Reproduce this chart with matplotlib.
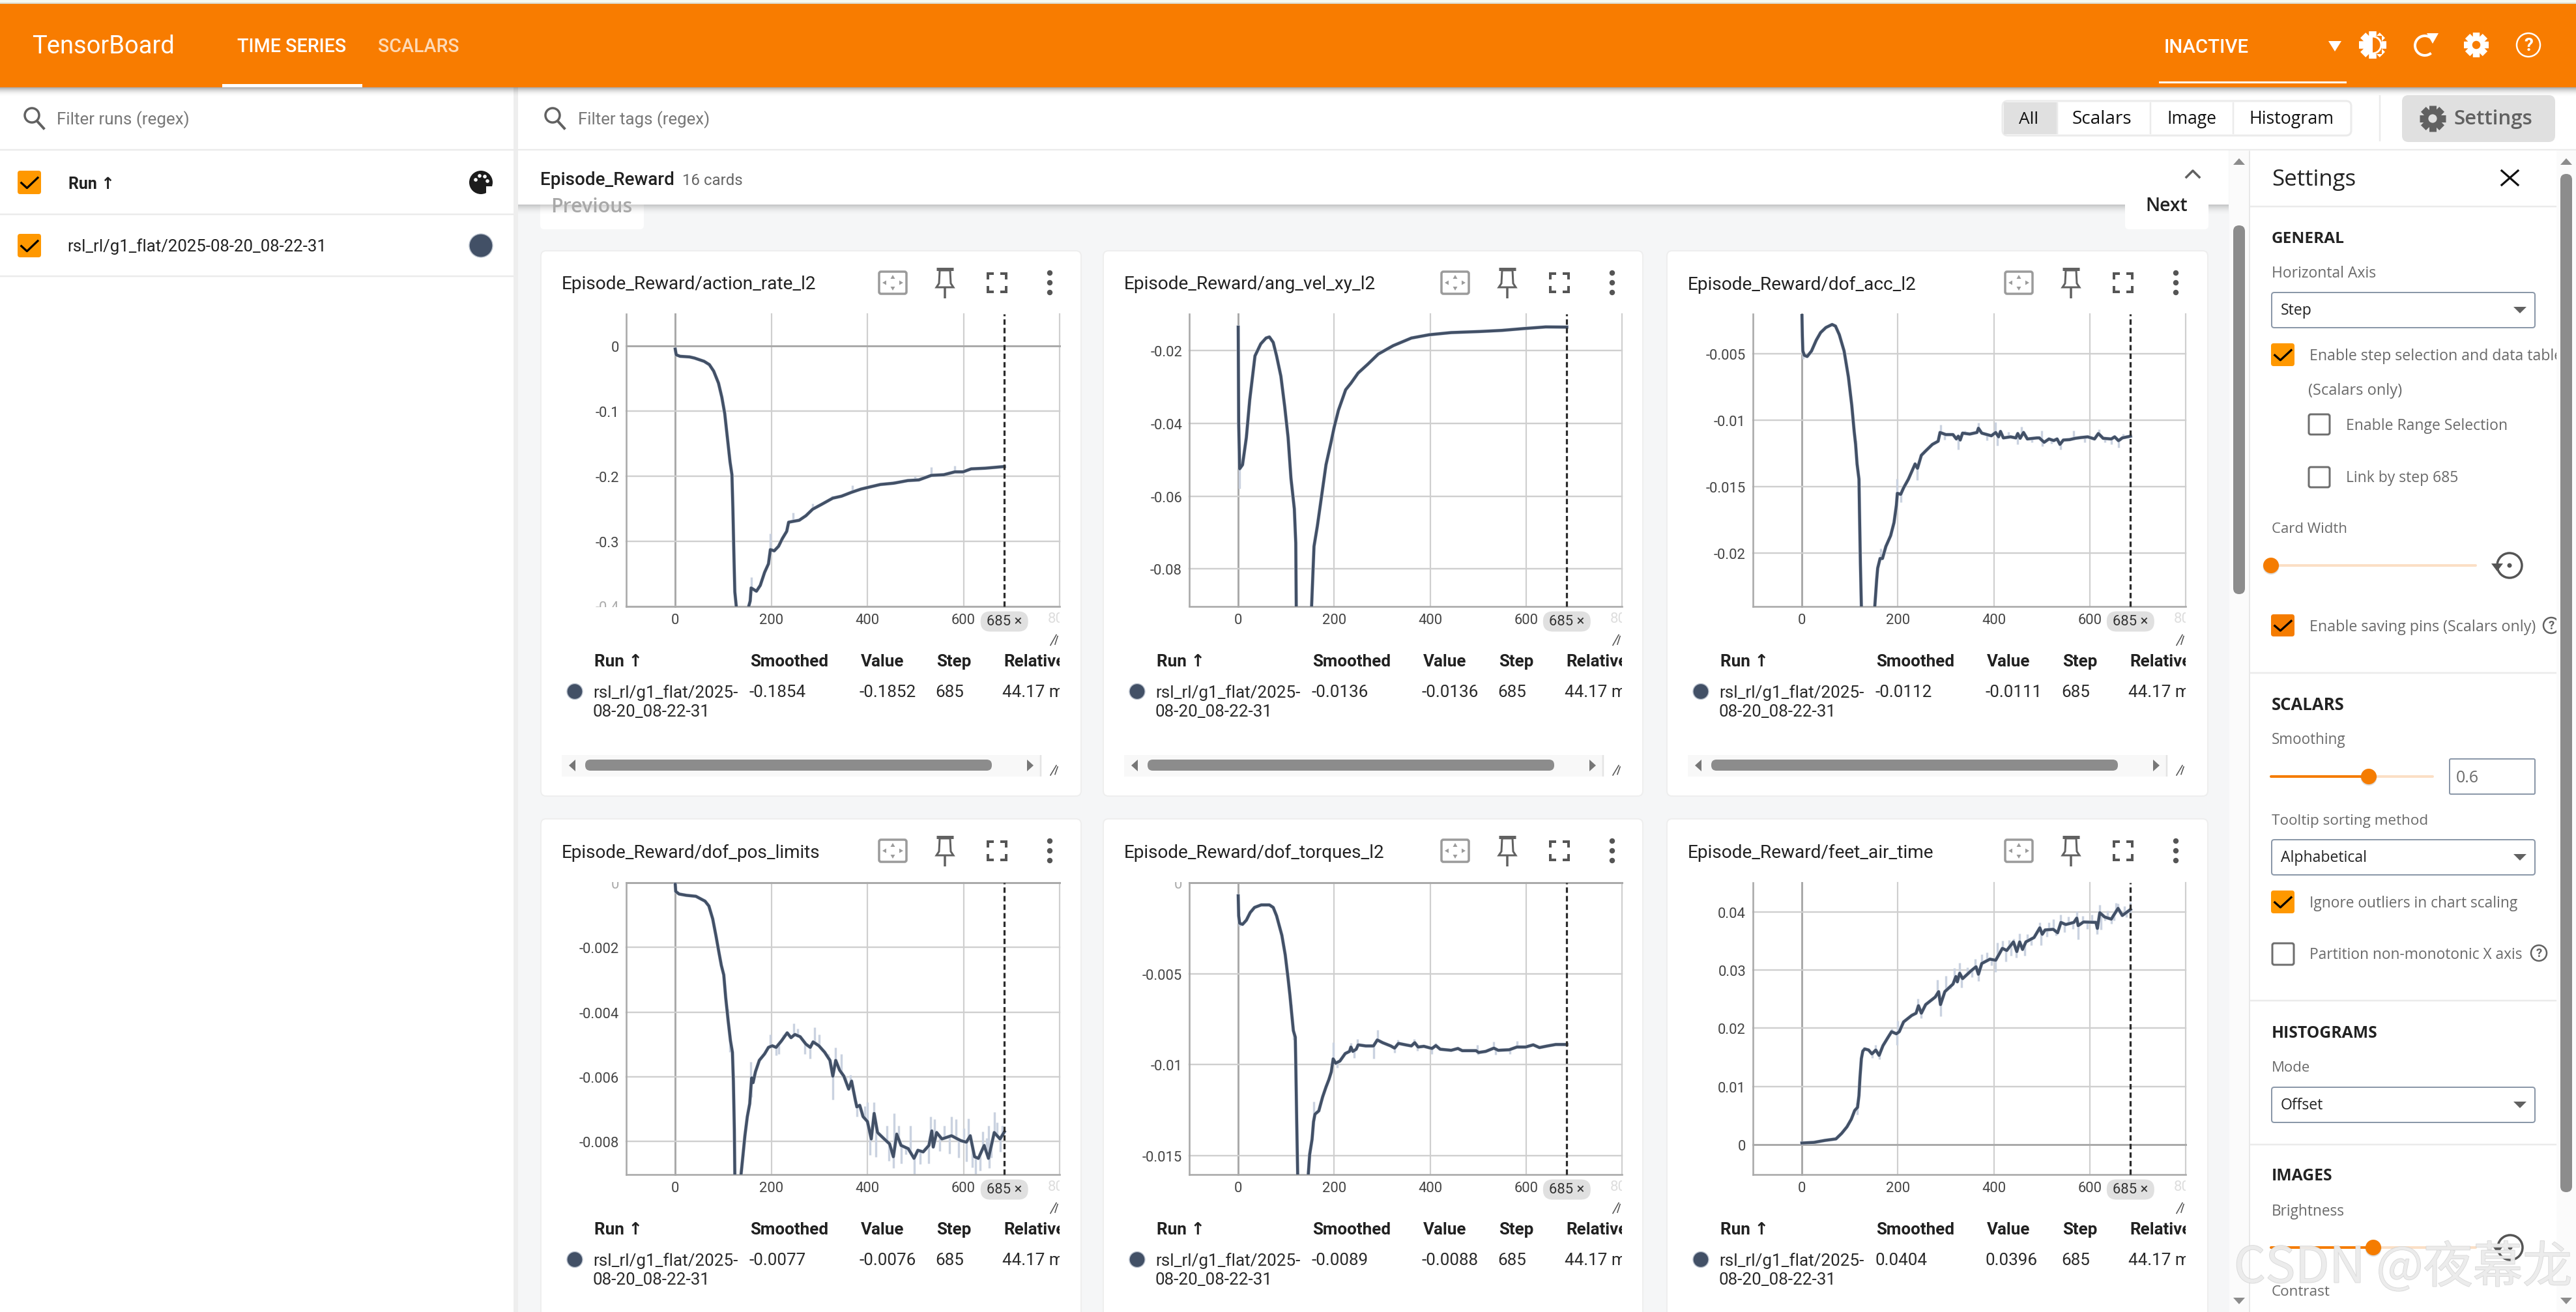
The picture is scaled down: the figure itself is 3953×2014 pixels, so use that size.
import numpy as np
import matplotlib
matplotlib.use("Agg")
import matplotlib.pyplot as plt
from matplotlib.patches import Rectangle, Circle, FancyBboxPatch, Polygon, Arc, Ellipse
from matplotlib.transforms import Bbox, TransformedBbox
import matplotlib.patheffects as pe

# ---------------- data ----------------
action_rate_steps = [0,2,10,30,40,60,71,80,90,97,103,107,110,114,118,120,122,124,127,130,140,150,153,156,158,169,177,186,194,198,206,215,223,232,236,243,258,272,286,306,323,328,346,367,387,404,427,455,484,507,533,559,582,599,616,645,685]
action_rate_smooth = [-.005,-.0137,-.016,-.017,-.0187,-.0237,-.0288,-.0388,-.0572,-.079,-.104,-.131,-.151,-.178,-.198,-.251,-.318,-.378,-.40,-.45,-.50,-.43,-.40,-.392,-.372,-.377,-.368,-.348,-.335,-.313,-.315,-.308,-.296,-.285,-.271,-.27,-.268,-.261,-.251,-.243,-.236,-.234,-.231,-.225,-.22,-.217,-.213,-.211,-.207,-.206,-.199,-.198,-.1936,-.1936,-.189,-.188,-.1854]
action_rate_raw_steps = [108,158,198,236,245,286,326,368,407,455,499,533,581,616,685]
action_rate_raw = [-.142,-.355,-.288,-.268,-.256,-.242,-.230,-.214,-.213,-.207,-.200,-.186,-.184,-.187,-.1852]

ang_vel_steps = [0,1,3,9,17,24,35,47,58,65,73,80,89,97,104,110,117,120,121,125,140,153,158,165,174,183,194,200,209,224,235,250,270,292,323,361,398,444,505,550,595,641,685]
ang_vel_smooth = [-.0136,-.04,-.0525,-.0514,-.0439,-.0336,-.0215,-.0182,-.0166,-.0163,-.0178,-.0215,-.0271,-.0355,-.0439,-.0551,-.0635,-.0729,-.0902,-.11,-.13,-.0902,-.0738,-.0682,-.0598,-.0514,-.0449,-.0411,-.0364,-.0308,-.029,-.0262,-.0238,-.021,-.0187,-.0166,-.0157,-.0151,-.0148,-.0145,-.014,-.01355,-.0136]
ang_vel_raw_steps = [2,110,158,198,235,300,420,530,600,660,685]
ang_vel_raw = [-.058,-.0565,-.0725,-.0425,-.0285,-.0198,-.0152,-.0145,-.0137,-.0132,-.0136]

dof_acc_steps = [0,1,2,5,11,20,30,39,50,63,70,78,88,97,104,109,112,115,119,120,122,124,128,140,152,156,158,163,168,175,185,192,197,199,206,212,222,232,236,241,249,258,272,284,288,300,315,322,326,330,335,350,365,368,375,395,404,410,414,420,435,446,450,455,462,470,490,495,505,515,525,532,538,545,558,570,582,596,610,618,628,645,652,660,668,685]
dof_acc_smooth = [-.0018,-.00364,-.00479,-.00511,-.0052,-.00479,-.00397,-.0034,-.00302,-.00279,-.00291,-.00356,-.00479,-.00675,-.00888,-.01084,-.01182,-.01329,-.01444,-.01673,-.02082,-.024,-.03,-.032,-.024,-.02196,-.02114,-.02041,-.02041,-.01951,-.01869,-.01771,-.0164,-.0155,-.01558,-.01509,-.01444,-.01362,-.01329,-.01362,-.01264,-.01231,-.01182,-.01158,-.01092,-.01108,-.01108,-.01141,-.0112,-.01149,-.01097,-.01104,-.01092,-.0106,-.01097,-.01117,-.01092,-.01125,-.01084,-.01133,-.01125,-.01133,-.011,-.01136,-.01092,-.01141,-.01133,-.01133,-.01166,-.01141,-.01153,-.01141,-.01182,-.01149,-.01146,-.01136,-.0113,-.01125,-.01141,-.011,-.01136,-.01141,-.01125,-.01154,-.01133,-.01120]
dof_acc_raw_steps = [2,112,118,164,198,207,240,289,298,326,340,368,385,403,407,430,450,458,480,500,501,520,539,567,590,619,632,645,660,670,685]
dof_acc_raw = [-.0054,-.0115,-.0148,-.01967,-.01439,-.0162,-.01452,-.01032,-.01145,-.01218,-.01080,-.01018,-.01150,-.01014,-.0119,-.01090,-.01179,-.01051,-.01165,-.01076,-.01195,-.01175,-.01218,-.01076,-.01165,-.01068,-.01165,-.01179,-.01207,-.01105,-.0111]

dof_pos_steps = [0,1,8,23,43,62,70,78,85,91,96,101,105,110,115,119,121,123,124,128,132,137,141,145,150,155,159,162,167,175,186,194,202,210,221,233,241,249,260,272,281,287,299,311,322,328,334,342,351,361,367,375,378,384,391,400,408,414,421,435,446,454,461,470,485,497,505,516,528,534,537,544,555,575,594,606,614,623,631,643,652,664,676,685]
dof_pos_smooth = [-.00005,-.00027,-.00035,-.00039,-.00042,-.00057,-.00072,-.00112,-.00166,-.00216,-.00256,-.00285,-.00355,-.00425,-.00489,-.00524,-.00613,-.00762,-.00901,-.012,-.012,-.00901,-.00842,-.00782,-.00723,-.00683,-.00603,-.00618,-.00584,-.00549,-.00529,-.00509,-.00504,-.00509,-.00489,-.00464,-.00479,-.00469,-.00476,-.00499,-.00509,-.00492,-.00504,-.00524,-.00549,-.00598,-.00549,-.00579,-.00598,-.00638,-.00613,-.00673,-.00693,-.00688,-.00723,-.00738,-.00792,-.00713,-.00772,-.00792,-.00807,-.00847,-.00777,-.00812,-.00822,-.00852,-.00827,-.00832,-.00812,-.00767,-.00817,-.00772,-.00792,-.00782,-.00797,-.00802,-.00782,-.00847,-.00852,-.00812,-.00852,-.00772,-.00792,-.0077]
dof_pos_raw_steps = [110,114,157,159,198,210,215,225,247,255,270,281,290,300,318,328,334,345,355,365,378,388,395,400,405,413,418,440,445,454,456,465,470,480,490,497,510,520,527,532,540,550,560,571,575,585,590,600,606,610,618,625,635,640,648,652,653,658,664,670,677,680,685]
dof_pos_raw = [-.0039,-.00524,-.00554,-.00663,-.00469,-.00534,-.0053,-.0047,-.00434,-.0045,-.0053,-.00544,-.00446,-.0047,-.0053,-.0067,-.00509,-.0053,-.0060,-.00593,-.00723,-.0072,-.0069,-.00678,-.00842,-.00678,-.00847,-.0075,-.0086,-.00882,-.00713,-.0075,-.00867,-.0084,-.0075,-.00901,-.0087,-.0082,-.00867,-.00723,-.0073,-.0083,-.0075,-.00837,-.00723,-.0073,-.0085,-.0076,-.00862,-.00728,-.0088,-.00901,-.0089,-.0077,-.0079,-.00752,-.00882,-.0085,-.00708,-.0074,-.00832,-.0075,-.0076]

dof_torq_steps = [0,1,3,9,17,25,34,48,65,73,80,91,98,104,108,111,115,119,120,122,124,128,135,146,149,154,157,160,168,176,183,189,194,198,203,212,223,232,235,239,246,250,266,282,290,301,318,326,334,349,361,368,375,387,404,412,421,444,458,467,496,501,516,533,542,565,581,599,615,628,645,662,685]
dof_torq_smooth = [-.00072,-.00182,-.00223,-.00229,-.00206,-.00164,-.00136,-.00122,-.00122,-.00136,-.00182,-.00289,-.00396,-.00527,-.00623,-.00706,-.00813,-.00849,-.00992,-.01314,-.01606,-.02,-.022,-.01606,-.01493,-.0141,-.01314,-.01272,-.01254,-.01177,-.01123,-.01082,-.0104,-.00968,-.00992,-.0098,-.00939,-.00927,-.00903,-.00927,-.00915,-.00891,-.00897,-.00897,-.00864,-.00879,-.00897,-.00909,-.00883,-.00891,-.00897,-.00879,-.00903,-.00899,-.00911,-.00895,-.00915,-.00921,-.00911,-.00923,-.00923,-.00933,-.00927,-.00909,-.00921,-.00918,-.00903,-.00903,-.00891,-.00906,-.00897,-.00889,-.00889]
dof_torq_raw_steps = [3,111,112,115,158,198,207,235,242,249,282,290,326,333,367,374,403,412,499,500,533,536,566,581,616,685]
dof_torq_raw = [-.0024,-.0067,-.00766,-.00861,-.01204,-.00877,-.01016,-.00879,-.00962,-.00859,-.00968,-.00808,-.00933,-.00864,-.00859,-.00923,-.00941,-.00879,-.00891,-.00945,-.00873,-.00945,-.00943,-.00871,-.00883,-.0088]

air_steps = [0,25,48,71,83,94,103,110,116,119,121,124,127,131,139,146,154,161,169,180,187,197,203,212,229,238,243,249,258,278,285,289,298,315,321,324,329,335,352,363,368,375,392,404,418,427,441,448,454,460,467,484,496,501,507,524,533,540,550,567,573,576,587,613,616,621,631,645,659,668,685]
air_smooth = [.00026,.00037,.00071,.00097,.00193,.00305,.00435,.00584,.00639,.00844,.01141,.01476,.01606,.01643,.01625,.01558,.01625,.01532,.01699,.01848,.0194,.01903,.0194,.02108,.02219,.02257,.02387,.02257,.02405,.02535,.02628,.02405,.02628,.02758,.02888,.02796,.02944,.02851,.02981,.03056,.02926,.03112,.03186,.03167,.03372,.03335,.03483,.03316,.03483,.03353,.03483,.03558,.03725,.03613,.03688,.03699,.03639,.03818,.03781,.03818,.03892,.03762,.03825,.03818,.03714,.03985,.03911,.03874,.0406,.03937,.0404]
air_raw_steps = [114,116,129,146,153,161,188,198,199,242,249,282,289,300,310,318,329,333,345,355,361,368,375,385,395,403,407,418,425,432,436,441,447,454,464,470,478,490,496,499,510,515,524,530,539,548,555,565,573,576,585,595,605,615,621,623,632,637,645,650,655,659,665,672,676,684,685]
air_raw = [.00714,.00509,.0168,.01483,.01717,.01468,.01996,.01717,.02126,.02509,.02175,.02833,.02201,.0290,.0268,.03037,.03119,.02703,.0305,.0288,.03186,.02807,.03268,.0330,.0308,.02963,.03465,.03502,.03149,.0352,.0325,.03539,.03216,.03632,.03242,.0362,.0342,.0368,.03818,.03428,.0357,.0382,.03874,.03595,.03955,.0365,.0392,.0370,.04011,.03528,.0393,.0370,.0395,.03613,.04115,.03699,.0385,.0402,.038,.0385,.0415,.04145,.0392,.0410,.03911,.0416,.0396]

card_titles = ["Episode_Reward/action_rate_l2","Episode_Reward/ang_vel_xy_l2","Episode_Reward/dof_acc_l2",
               "Episode_Reward/dof_pos_limits","Episode_Reward/dof_torques_l2","Episode_Reward/feet_air_time"]
y_ticks = [[0,-.1,-.2,-.3,-.4],[-.02,-.04,-.06,-.08],[-.005,-.01,-.015,-.02],
           [0,-.002,-.004,-.006,-.008],[0,-.005,-.01,-.015],[0,.01,.02,.03,.04]]
y_tick_labels = [["0","-0.1","-0.2","-0.3","-0.4"],["-0.02","-0.04","-0.06","-0.08"],["-0.005","-0.01","-0.015","-0.02"],
                 ["0","-0.002","-0.004","-0.006","-0.008"],["0","-0.005","-0.01","-0.015"],["0","0.01","0.02","0.03","0.04"]]
y_limits = [(-.4,.049),(-.0902,-.01),(-.024,-.002),(-.00901,0),(-.01602,0),(-.0051,.045)]
x_ticks = [0,200,400,600,800]
selected_step = 685
run_name = ["rsl_rl/g1_flat/2025-","08-20_08-22-31"]
smoothed_now = ["-0.1854","-0.0136","-0.0112","-0.0077","-0.0089","0.0404"]
value_now = ["-0.1852","-0.0136","-0.0111","-0.0076","-0.0088","0.0396"]
relative_now = "44.17 min"

series = [(action_rate_steps,action_rate_smooth,action_rate_raw_steps,action_rate_raw),
          (ang_vel_steps,ang_vel_smooth,ang_vel_raw_steps,ang_vel_raw),
          (dof_acc_steps,dof_acc_smooth,dof_acc_raw_steps,dof_acc_raw),
          (dof_pos_steps,dof_pos_smooth,dof_pos_raw_steps,dof_pos_raw),
          (dof_torq_steps,dof_torq_smooth,dof_torq_raw_steps,dof_torq_raw),
          (air_steps,air_smooth,air_raw_steps,air_raw)]

# ---------------- style / layout ----------------
W, H = 3953, 2015
ORANGE = "#f87c00"; CHECK = "#ff9800"; LINE = "#425066"; RAW = "#cad2e0"
GRID = "#cfcfcf"; AXIS = "#aaaaaa"; GREY = "#616161"; BG = "#f5f6f7"; THUMB = "#8c8c8c"; SEP = "#ebebeb"
plt.rcParams["font.family"] = ["Roboto", "DejaVu Sans"]
fig = plt.figure(figsize=(W/100, H/100), dpi=100, facecolor="white")
ui = fig.add_axes([0,0,1,1], zorder=1)
ui.set_xlim(0,W); ui.set_ylim(H,0); ui.axis("off")
rend = fig.canvas.get_renderer()
lw = lambda px: px*0.72

def box(x0,y0,x1,y1,color,z=1,**k):
    ui.add_patch(Rectangle((x0,y0),x1-x0,y1-y0,fc=color,ec="none",zorder=z,**k))
def rbox(x0,y0,x1,y1,fc,ec="none",r=6,lwpx=0,z=2):
    ui.add_patch(FancyBboxPatch((x0+r,y0+r),x1-x0-2*r,y1-y0-2*r,boxstyle=f"round,pad={r},rounding_size={r}",
                 fc=fc,ec=ec,lw=lw(lwpx),zorder=z,mutation_aspect=1))
def hline(x0,x1,y,color=SEP,px=2.5,z=2):
    ui.plot([x0,x1],[y,y],color=color,lw=lw(px),zorder=z,solid_capstyle="butt")
def vline(x,y0,y1,color=SEP,px=2.5,z=2):
    ui.plot([x,x],[y0,y1],color=color,lw=lw(px),zorder=z,solid_capstyle="butt")
def txt(x,y,s,size=26,color="#212121",x1=None,ha="left",weight="normal",family=None,clip=None,z=6,alpha=None):
    t = ui.text(x,y+2,s,fontsize=size*0.72,color=color,ha=ha,va="center",fontweight=weight,zorder=z,alpha=alpha,
                family=family if family else ["Roboto","DejaVu Sans"])
    if x1 is not None:
        w = t.get_window_extent(rend).width
        t.set_fontsize(t.get_fontsize()*(x1-x)/w)
    if clip:
        t.set_clip_on(True)
        t.set_clip_box(TransformedBbox(Bbox([[clip[0],clip[1]],[clip[2],clip[3]]]), ui.transData))
    return t
def tri(x,y,s,d="down",color=GREY,z=6,h=None):
    h = h if h else s*0.6
    pts = {"down":[(x-s,y-h),(x+s,y-h),(x,y+h)],"up":[(x-s,y+h),(x+s,y+h),(x,y-h)],
           "left":[(x+h,y-s),(x+h,y+s),(x-h,y)],"right":[(x-h,y-s),(x-h,y+s),(x+h,y)]}[d]
    ui.add_patch(Polygon(pts,fc=color,ec="none",zorder=z))
def shadow(x0,x1,y,h=14,z=3,strength=.32):
    for i in range(h):
        box(x0,y+i,x1,y+i+1,"black",z=z,alpha=strength*(1-i/h)**2)
def search(x,y):
    ui.add_patch(Circle((x-3,y-4),11,fc="none",ec=GREY,lw=lw(3.5),zorder=6))
    ui.plot([x+5,x+15],[y+5,y+16],color=GREY,lw=lw(4),zorder=6)
def gear(x,y,r,color,hole):
    for a in np.arange(0,180,45):
        c,s = np.cos(np.radians(a)),np.sin(np.radians(a))
        ui.plot([x-r*c,x+r*c],[y-r*s,y+r*s],color=color,lw=lw(r*.55),solid_capstyle="butt",zorder=6)
    ui.add_patch(Circle((x,y),r*.72,fc=color,ec="none",zorder=6))
    ui.add_patch(Circle((x,y),r*.33,fc=hole,ec="none",zorder=7))
def check_box(x0,y0,x1,y1,on=True,color=CHECK):
    if on:
        rbox(x0,y0,x1,y1,color,r=4,z=5)
        w,h = x1-x0,y1-y0
        ui.plot([x0+w*.16,x0+w*.40,x1-w*.14],[y0+h*.52,y0+h*.74,y0+h*.30],color="black",lw=lw(3.2),zorder=6)
    else:
        rbox(x0+1,y0+1,x1-1,y1-1,"white",ec="#6e6e6e",r=3,lwpx=3,z=5)
def select(x0,y0,x1,y1,label):
    rbox(x0,y0,x1,y1,"white",ec="#8a97a8",r=4,lwpx=2,z=5)
    txt(x0+14,(y0+y1)/2-2,label,family=["Open Sans"],size=23,color="#222222",z=6)
    tri(x1-23,(y0+y1)/2,10,color=GREY,h=5)
def slider(x0,x1,y,pos):
    ui.plot([x0,x1],[y,y],color="#fbdfc5",lw=lw(4),zorder=5,solid_capstyle="round")
    if pos>x0: ui.plot([x0,pos],[y,y],color="#f57c00",lw=lw(4),zorder=5,solid_capstyle="round")
    shadow_c = Circle((pos,y+1.5),12.5,fc="#00000022",ec="none",zorder=5); ui.add_patch(shadow_c)
    ui.add_patch(Circle((pos,y),12,fc="#f57c00",ec="none",zorder=6))
def reset_icon(x,y):
    ui.add_patch(Arc((x+1,y),38,38,theta1=-205,theta2=155,ec="#555555",lw=lw(3.5),zorder=7))
    ui.add_patch(Circle((x+1,y),3.5,fc="#555555",ec="none",zorder=7))
    tri(x-18,y+3,9,color="#555555",z=7,h=6)
def help_icon(x,y,color=GREY,r=12,clip=None):
    c = Circle((x,y),r,fc="none",ec=color,lw=lw(2.5),zorder=6); ui.add_patch(c)
    t = txt(x,y-2,"?",size=r*1.55,color=color,ha="center",weight="bold")
    if clip:
        cb = TransformedBbox(Bbox([[clip[0],clip[1]],[clip[2],clip[3]]]), ui.transData)
        c.set_clip_on(True); c.set_clip_box(cb); t.set_clip_on(True); t.set_clip_box(cb)

# ---- page frame ----
box(0,0,W,7,"#f5f9ef"); box(0,5,W,7,"#dcd9c6",z=2)
box(795,232,W,H,BG)
box(0,135,795,H,"white"); box(0,135,W,232,"white")
box(788,135,795,H,"#eeeeee",z=2)
hline(0,W,231); hline(0,788,330); hline(0,788,425)
box(0,7,W,135,ORANGE,z=4); shadow(0,W,135,z=3)

txt(49,70,"TensorBoard",color="white",x1=268,z=6)
txt(364,70,"TIME SERIES",color="white",x1=532,weight="medium")
txt(580,70,"SCALARS",color="white",x1=705,alpha=.72,weight="medium")
box(341,130,556,135,"white",z=5)
txt(3321,71,"INACTIVE",color="white",x1=3451,weight="medium")
box(3313,126,3601,128.5,"white",z=5)
tri(3583,72,10,color="white",h=8)
# toolbar icons
gear(3641,70,21,"white",ORANGE)
ui.add_patch(Circle((3641,70),13,fc="white",ec="none",zorder=7))
ui.add_patch(Rectangle((3641,56),14,28,fc=ORANGE,ec="none",zorder=7))
ui.add_patch(Arc((3641,70),26,26,theta1=-90,theta2=90,ec="white",lw=lw(3),zorder=8))
ui.add_patch(Arc((3721,71),30,30,theta1=-310,theta2=-30,ec="white",lw=lw(4),zorder=7))
tri(3733,60,9,"down",color="white",z=7,h=8)
gear(3800,70,19,"white",ORANGE)
help_icon(3880,70,color="white",r=18)

# sidebar
search(52,182)
txt(87,182,"Filter runs (regex)",color="#777777",x1=291)
check_box(27,263,63,299)
txt(105,281,"Run ↑",weight="bold",size=25,color="#212121")
ui.add_patch(Ellipse((738,281),36,36,fc="#1c1c1c",ec="none",zorder=5))
for dx,dy in [(-8,-4),(-2,-10),(6,-9),(10,-2)]:
    ui.add_patch(Circle((738+dx,281+dy),2.8,fc="white",ec="none",zorder=6))
box(746,287,757,299,"white",z=6)
check_box(27,360,63,396)
txt(103,377,"rsl_rl/g1_flat/2025-08-20_08-22-31",x1=501,color="#222222")
ui.add_patch(Circle((738,378),18,fc=LINE,ec="#b8c0cc",lw=1,zorder=5))

# main toolbar
search(851,182)
txt(887,182,"Filter tags (regex)",color="#777777",x1=1090)
rbox(3073,156,3608,209,"white",ec=SEP,r=8,lwpx=3,z=3)
box(3075,158,3156,207,"#e0e0e0",z=4)
vline(3300,158,207,z=4); vline(3427,158,207,z=4); vline(3157,158,207,z=4)
for cx,w_,lab in [(3113,30,"All"),(3226,92,"Scalars"),(3363,76,"Image"),(3516,130,"Histogram")]:
    txt(cx-w_/2,181,lab,x1=cx+w_/2,family=["Open Sans"],color="#111111")
vline(3652,147,218)
rbox(3686,147,3921,219,"#e0e0e0",r=10,z=3)
gear(3733,183,20,GREY,"#e0e0e0")
txt(3766,181,"Settings",x1=3887,family=["Open Sans"],color=GREY,weight="semibold")

# section header
box(795,232,3420,315,"white",z=4); shadow(795,3420,315,h=16,z=3,strength=.2)
txt(829,275,"Episode_Reward",x1=1035,weight="medium",color="#212121")
txt(1047,276,"16 cards",x1=1140,color="#666666")
ui.plot([3355,3365,3375],[273,263,273],color=GREY,lw=lw(3.5),zorder=6)
rbox(829,300,988,353,"white",r=6,z=2)
txt(845,316,"Previous",x1=971,family=["Open Sans"],color="#a8a8a8",weight="semibold",z=6)
rbox(3261,300,3389,353,"white",r=6,z=2)
box(3261,315,3389,330,"white",z=4)
txt(3292,315,"Next",x1=3357,family=["Open Sans"],color="#212121",weight="semibold",z=6)

# main scrollbar
box(3421,232,3452,H,"#fbfbfb",z=2); vline(3452,232,H,color="#e8e8e8",px=3)
tri(3436,249,9,"up",color=THUMB,h=5); tri(3436,1998,9,"down",color=THUMB,h=5)
rbox(3427,347,3445,913,THUMB,r=9,z=3)

# ---- cards ----
col_left = [830,1693,2558]; col_right = [1659,2521,3388]
plot_left = [961,1825,2690]; plot_right = [1626,2489,3354]
row_top = [386,1258]; row_card_bottom = [1223,H+20]
plot_top = [483,1356]; plot_bottom = [931.5,1803.5]
title_x1 = [1253,2112,2942,1259,2126,2968]

for i in range(6):
    c = i%3; r = i//3
    cl,cr = col_left[c],col_right[c]; pl,pr = plot_left[c],plot_right[c]
    pt,pb = plot_top[r],plot_bottom[r]; ct = row_top[r]
    rbox(cl,ct,cr,row_card_bottom[r],"white",ec="#eeeeee",r=8,lwpx=2,z=3)
    ty = ct+49
    txt(cl+32,ty,card_titles[i],x1=title_x1[i],color="#222222")
    # icons
    ix = cl+540
    rbox(ix-21,ty-17,ix+21,ty+17,"white",ec="#9b9b9b",r=3,lwpx=3.5,z=5)
    tri(ix,ty-9,3.5,"up",color="#9b9b9b",h=3); tri(ix,ty+9,3.5,"down",color="#9b9b9b",h=3)
    tri(ix-13,ty,3.5,"left",color="#9b9b9b",h=3); tri(ix+13,ty,3.5,"right",color="#9b9b9b",h=3)
    ix = cl+620
    ui.plot([ix-13,ix+13],[ty-21,ty-21],color=GREY,lw=lw(5),zorder=6,solid_capstyle="butt")
    ui.add_patch(Polygon([(ix-8,ty-19),(ix+8,ty-19),(ix+9,ty+1),(ix+13,ty+7),(ix-13,ty+7),(ix-9,ty+1)],fc="white",ec=GREY,lw=lw(3),zorder=6))
    ui.plot([ix,ix],[ty+7,ty+24],color=GREY,lw=lw(3.5),zorder=6,solid_capstyle="butt")
    ix = cl+700
    for sx,sy in [(-1,-1),(1,-1),(-1,1),(1,1)]:
        ui.plot([ix+sx*14,ix+sx*14,ix+sx*5],[ty+sy*5,ty+sy*14,ty+sy*14],color="#555555",lw=lw(4),zorder=6,solid_joinstyle="miter",solid_capstyle="butt")
    ix = cl+781
    for dy in (-15,0,15):
        ui.add_patch(Circle((ix,ty+dy),4.2,fc="#555555",ec="none",zorder=6))

    ax = fig.add_axes([pl/W,1-pb/H,(pr-pl)/W,(pb-pt)/H],zorder=2)
    ax.set_facecolor("white")
    ax.set_xlim(-102,800); ax.set_ylim(*y_limits[i])
    st,sm,rs,rv = series[i]
    for v in x_ticks:
        ax.plot([v,v],[0,1],transform=ax.get_xaxis_transform(),color=AXIS if v==0 else GRID,lw=lw(3 if v==0 else 2.2),zorder=1,clip_on=False)
    for v in y_ticks[i]:
        ax.axhline(v,color=AXIS if v==0 else GRID,lw=lw(3 if v==0 else 2.4),zorder=1.1,clip_on=False)
    # raw readings: narrow light excursions around the smoothed curve
    ax.plot(st,sm,color=RAW,lw=lw(5.5),zorder=2,solid_joinstyle="round")
    ax.vlines(rs,np.interp(rs,st,sm),rv,color=RAW,lw=lw(3.4),zorder=2)
    ax.plot(st,sm,color=LINE,lw=lw(4.4),zorder=3,solid_joinstyle="round")
    ax.axvline(selected_step,color="#2b2b2b",lw=lw(3.2),zorder=4,linestyle=(0,(2.6,1.5)),clip_on=False)
    for s_ in ("top","right"): ax.spines[s_].set_visible(False)
    for s_ in ("left","bottom"):
        ax.spines[s_].set_color(AXIS); ax.spines[s_].set_linewidth(lw(2.6))
    ax.set_xticks([0,200,400,600]); ax.set_yticks(y_ticks[i]); ax.set_yticklabels(y_tick_labels[i])
    ax.tick_params(length=0,labelsize=22*.72,labelcolor="#444444",pad=lw(11))
    ax.tick_params(axis="x",pad=lw(11))
    cb = Bbox([[0,(H-pb)-1],[W,(H-pt)+1]])
    for lab in ax.get_yticklabels():
        lab.set_clip_on(True); lab.set_clip_box(cb)
        if lab.get_text()=="0" and y_limits[i][1]==0: lab.set_alpha(.45)
    if i==0: ax.get_yticklabels()[-1].set_alpha(.45)
    # faded 800 label and selected-step chip
    txt(pr,pb+17,"800",size=22,ha="center",color="#dddddd",clip=(pr-20,pb,pr,pb+40))
    xpx = pl+(selected_step+102)*(pr-pl)/902
    rbox(xpx-36.5,pb+8,xpx+36.5,pb+39,"#e0e0e0",r=15,z=5)
    txt(xpx,pb+21.5,f"{selected_step} ×",size=22,ha="center",color="#333333")
    # resize hatch
    for d in (0,7):
        ui.plot([pr-14+d,pr-5+d*.3],[pb+60-d*.2,pb+44+d*.3],color="#555555",lw=lw(1.6),zorder=6)
    # table
    clip = (cl,pb,pr,H)
    hy = pb+83
    txt(cl+82,hy,"Run ↑",weight="bold",size=26,color="#212121")
    for off,lab in [(321,"Smoothed"),(491,"Value"),(607,"Step"),(710,"Relative")]:
        txt(cl+off,hy,lab,weight="bold",size=26,color="#212121",clip=clip)
    ry = pb+130
    ui.add_patch(Circle((cl+52,ry+1),12,fc=LINE,ec="#b8c0cc",lw=1,zorder=5))
    txt(cl+80,ry,run_name[0],size=26,color="#2a2a2a")
    txt(cl+80,ry+29.5,run_name[1],size=26,color="#2a2a2a")
    txt(cl+320,ry,smoothed_now[i],size=26,color="#2a2a2a")
    txt(cl+489,ry,value_now[i],size=26,color="#2a2a2a")
    txt(cl+605,ry,str(selected_step),size=26,color="#2a2a2a")
    txt(cl+708,ry,relative_now,size=26,color="#2a2a2a",clip=clip)
    if r==0:
        box(cl+32,1160,pr,1193,"#f8f8f8",z=4)
        rbox(cl+68,1167,cl+692,1184,THUMB,r=8,z=5)
        tri(cl+48,1176,9,"left",color="#777777",h=5); tri(cl+751,1176,9,"right",color="#777777",h=5)
        box(pr-29,1160,pr,1193,"white",z=5); vline(pr-29,1160,1193,color="#e4e4e4",z=5)
        for d in (0,7):
            ui.plot([pr-14+d,pr-5+d*.3],[1191-d*.2,1176+d*.3],color="#555555",lw=lw(1.6),zorder=6)

# ---- settings panel ----
SF = ["Open Sans"]; LABEL = "#6a6a6a"
box(3453,232,3923,H,"white",z=2)
box(3923,232,W,H,"#fbfbfb",z=2)
tri(3938,249,9,"up",color=THUMB,h=5); tri(3938,1998,9,"down",color=THUMB,h=5)
rbox(3929,268,3947,1831,THUMB,r=9,z=3)
PCLIP = (3453,232,3923,H)
txt(3486,274,"Settings",x1=3615,size=36,family=SF,color="#222222")
ui.plot([3839,3864],[263,285],color="#111111",lw=lw(3.2),zorder=6)
ui.plot([3839,3864],[285,263],color="#111111",lw=lw(3.2),zorder=6)
for y_ in (318,1034,1537,1758): hline(3453,3923,y_,z=3)
for y_,lab,x1 in [(365,"GENERAL",3598),(1081,"SCALARS",3598),(1585,"HISTOGRAMS",3649),(1804,"IMAGES",3580)]:
    txt(3486,y_,lab,x1=x1,family=SF,weight="bold",color="#222222")
for y_,lab,x1 in [(418,"Horizontal Axis",3646),(811,"Card Width",3602),(1134,"Smoothing",3600),(1259,"Tooltip sorting method",3726),
                  (1638,"Mode",3545),(1858,"Brightness",3598),(1982,"Contrast",3576)]:
    txt(3486,y_,lab,x1=x1,family=SF,color=LABEL)
select(3486,450,3890,504,"Step")
check_box(3485,528,3521,563)
txt(3544,545,"Enable step selection and data table",x1=3934,family=SF,color=LABEL,clip=PCLIP)
txt(3542,598,"(Scalars only)",x1=3686,family=SF,color=LABEL)
check_box(3542,636,3576,669,on=False)
txt(3600,652,"Enable Range Selection",x1=3848,family=SF,color=LABEL)
check_box(3542,717,3576,750,on=False)
txt(3600,732,"Link by step 685",x1=3772,family=SF,color=LABEL)
slider(3485,3799,869,3485)
reset_icon(3850,869)
check_box(3485,944,3521,978,color="#f57c00")
txt(3544,961,"Enable saving pins (Scalars only)",x1=3891,family=SF,color=LABEL)
help_icon(3915,961,clip=PCLIP)
slider(3485,3733,1193,3635)
rbox(3759,1166,3890,1220,"white",ec="#8a97a8",r=2,lwpx=2,z=5)
txt(3769,1193,"0.6",x1=3804,family=SF,color=LABEL)
select(3486,1290,3890,1344,"Alphabetical")
check_box(3485,1368,3521,1403)
txt(3544,1385,"Ignore outliers in chart scaling",x1=3864,family=SF,color=LABEL)
check_box(3486,1448,3521,1483,on=False)
txt(3544,1464,"Partition non-monotonic X axis",x1=3871,family=SF,color=LABEL)
help_icon(3896,1464)
select(3486,1670,3890,1724,"Offset")
slider(3485,3799,1916,3642)
reset_icon(3851,1916)

# watermark
wm = txt(3428,1946,"CSDN @夜幕龙",x1=3947,family=["Noto Sans CJK SC","DejaVu Sans"],color="#ececec",z=9,alpha=.8)
wm.set_path_effects([pe.withStroke(linewidth=1.0,foreground="#cfcfcf")])

fig.savefig("out.png",dpi=100,facecolor="white")
